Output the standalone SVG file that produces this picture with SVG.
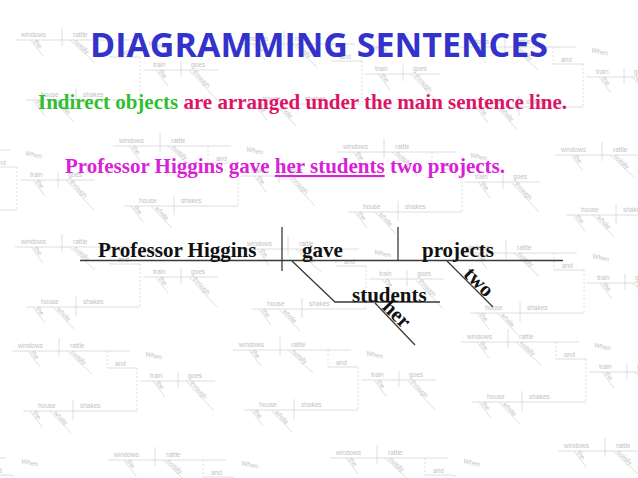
<svg xmlns="http://www.w3.org/2000/svg" xmlns:xlink="http://www.w3.org/1999/xlink" width="638" height="478" viewBox="0 0 638 478">
<style>
.wl{stroke:#d6d6d6;stroke-width:0.8;fill:none}
.wd{stroke:#d6d6d6;stroke-width:0.8;fill:none;stroke-dasharray:2 2}
.wt{font-family:"Liberation Sans",Arial,sans-serif;font-size:6.5px;fill:#c2c2c2}
.title{font-family:"Comic Sans MS","Open Sans","DejaVu Sans",sans-serif;font-weight:700;font-size:34px;fill:#3333cc}
.serif{font-family:"Liberation Serif","Times New Roman",serif;font-weight:700;font-size:21px}
.dw{font-family:"Liberation Serif","Times New Roman",serif;font-weight:700;font-size:21px;fill:#111}
.ln{stroke:#3a3a3a;stroke-width:1.3;fill:none}
</style>
<defs>
<g id="wm">
<line class="wl" x1="0" y1="0" x2="118" y2="0"/>
<line class="wl" x1="47" y1="-13" x2="47" y2="6"/>
<text class="wt" x="6" y="-3">windows</text>
<text class="wt" x="58" y="-3">rattle</text>
<line class="wl" x1="16" y1="0" x2="28" y2="16"/>
<text class="wt" transform="translate(16,0) rotate(53)" x="3" y="-1">the</text>
<line class="wl" x1="55" y1="0" x2="80" y2="23"/>
<text class="wt" transform="translate(55,0) rotate(43)" x="4" y="-1">noisily</text>
<line class="wd" x1="95" y1="0" x2="95" y2="17"/>
<line class="wl" x1="95" y1="17" x2="125" y2="17"/>
<text class="wt" x="103" y="15">and</text>
<line class="wd" x1="125" y1="17" x2="125" y2="60"/>
<text class="wt" transform="translate(133,5) rotate(12)">When</text>
<line class="wl" x1="128" y1="30" x2="203" y2="30"/>
<line class="wl" x1="166" y1="21" x2="166" y2="37"/>
<text class="wt" x="138" y="27">train</text>
<text class="wt" x="176" y="27">goes</text>
<line class="wl" x1="141" y1="30" x2="153" y2="46"/>
<text class="wt" transform="translate(141,30) rotate(53)" x="3" y="-1">the</text>
<line class="wl" x1="174" y1="30" x2="202" y2="60"/>
<text class="wt" transform="translate(174,30) rotate(47)" x="4" y="-1">through</text>
<line class="wl" x1="11" y1="60" x2="125" y2="60"/>
<line class="wl" x1="61" y1="49" x2="61" y2="69"/>
<text class="wt" x="26" y="57">house</text>
<text class="wt" x="68" y="57">shakes</text>
<line class="wl" x1="18" y1="60" x2="30" y2="76"/>
<text class="wt" transform="translate(18,60) rotate(53)" x="3" y="-1">the</text>
<line class="wl" x1="38" y1="60" x2="59" y2="82"/>
<text class="wt" transform="translate(38,60) rotate(47)" x="4" y="-1">whole</text>
</g>
</defs>
<rect x="0" y="0" width="638" height="478" fill="#ffffff"/>
<g id="watermark">
<use xlink:href="#wm" x="15" y="40"/>
<use xlink:href="#wm" x="237" y="44"/>
<use xlink:href="#wm" x="458" y="47"/>
<use xlink:href="#wm" x="-108" y="150"/>
<use xlink:href="#wm" x="113" y="146"/>
<use xlink:href="#wm" x="337" y="152"/>
<use xlink:href="#wm" x="555" y="155"/>
<use xlink:href="#wm" x="15" y="247"/>
<use xlink:href="#wm" x="241" y="249"/>
<use xlink:href="#wm" x="459" y="253"/>
<use xlink:href="#wm" x="12" y="351"/>
<use xlink:href="#wm" x="233" y="350"/>
<use xlink:href="#wm" x="461" y="342"/>
<use xlink:href="#wm" x="-112" y="458"/>
<use xlink:href="#wm" x="108" y="460"/>
<use xlink:href="#wm" x="330" y="458"/>
<use xlink:href="#wm" x="558" y="451"/>
</g>
<g id="title">
<text class="title" x="90" y="57" textLength="458" lengthAdjust="spacingAndGlyphs">DIAGRAMMING SENTENCES</text>
</g>
<g id="subtitle">
<text class="serif" x="38" y="109"><tspan fill="#2fbf2f">Indirect objects</tspan><tspan fill="#dc1466"> are arranged under the main sentence line.</tspan></text>
</g>
<g id="sentence">
<text class="serif" x="65" y="173" fill="#d822d8">Professor Higgins gave <tspan text-decoration="underline">her students</tspan> two projects.</text>
</g>
<g id="connectors">
<line class="ln" x1="80" y1="260.5" x2="563" y2="260.5"/>
<line class="ln" x1="282" y1="227" x2="282" y2="271"/>
<line class="ln" x1="398" y1="227" x2="398" y2="260.5"/>
<polyline class="ln" points="292,261 335,302 440,302"/>
<line class="ln" x1="375" y1="303" x2="415" y2="345"/>
<line class="ln" x1="447" y1="261" x2="493" y2="307"/>
</g>
<g id="subject"><text class="dw" x="98" y="257">Professor Higgins</text></g>
<g id="verb"><text class="dw" x="302" y="257">gave</text></g>
<g id="object"><text class="dw" x="422" y="257">projects</text></g>
<g id="indirect-object"><text class="dw" x="352" y="302">students</text></g>
<g id="modifier-her"><text class="dw" transform="translate(375,303) rotate(45)" x="8" y="-1">her</text></g>
<g id="modifier-two"><text class="dw" transform="translate(447,261) rotate(45)" x="21" y="-1">two</text></g>
</svg>
